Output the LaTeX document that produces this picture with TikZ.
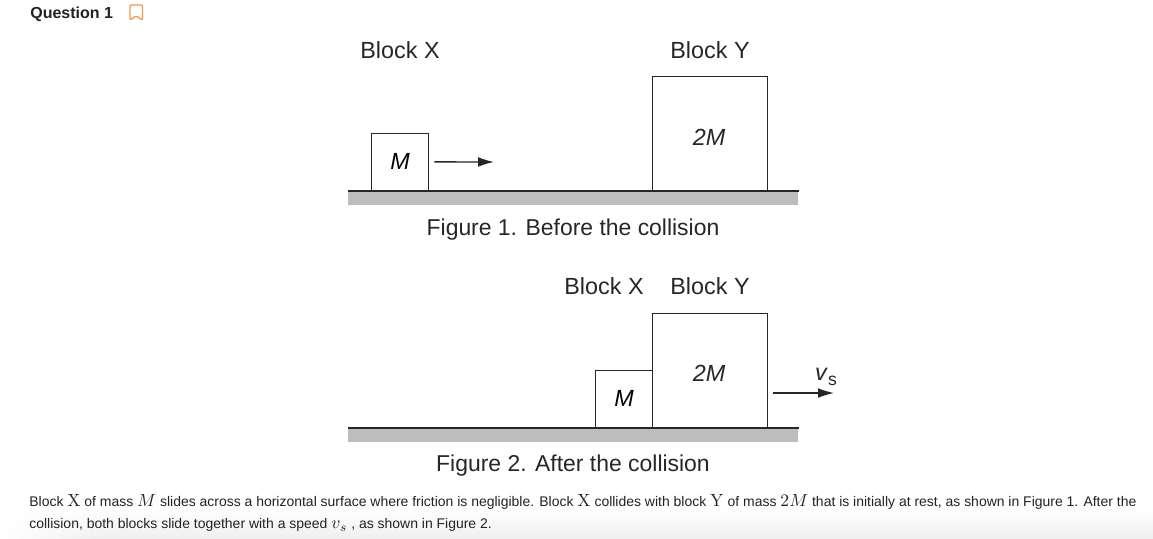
\documentclass[tikz,border=0pt]{standalone}
\usepackage{amsmath}
\usepackage{xcolor}
\usepackage[no-math]{fontspec}
\setmainfont{Liberation Sans}
\usepackage{tikz}
\usetikzlibrary{arrows,arrows.meta,positioning}

\definecolor{groundgray}{HTML}{BDBDBF}
\definecolor{inkdark}{HTML}{222222}
\definecolor{markorange}{HTML}{F79646}

\tikzset{
    smallblock/.style={draw=black!85, line width=0.75pt, minimum width=1.14cm, minimum height=1.14cm, inner sep=0pt, anchor=south west, font=\fontsize{13.3}{15}\selectfont\itshape},
    bigblock/.style={draw=black!85, line width=0.75pt, minimum width=2.30cm, minimum height=2.28cm, inner sep=0pt, anchor=south west},
    ground/.style={fill=groundgray, minimum width=9cm, minimum height=0.27cm, inner sep=0pt, anchor=north west},
    label/.style={inner sep=0pt, text=black!85, font=\fontsize{13.3}{15}\selectfont},
    caption/.style={inner sep=0pt, anchor=base, text=black!85, font=\fontsize{13.05}{15}\selectfont},
    body/.style={inner sep=0pt, anchor=base west, text=inkdark, font=\fontsize{7.95}{10}\selectfont},
    motion/.style={-{Latex[length=9pt,width=5.5pt]}, line width=0.75pt, black!85}
}
\newcommand{\bigmath}[1]{{\fontsize{9.6}{10}\selectfont$#1$}}

\begin{document}
\begin{tikzpicture}[x=0.02cm,y=-0.02cm]
    \useasboundingbox (0,0) rectangle (1153,538);

    % page shadow
    \shade[top color=white, bottom color=black!6] (100,508) rectangle (1153,538);
    \foreach \i in {0,...,9} {
        \pgfmathsetmacro{\tint}{0.6*(\i+0.5)}
        \shade[top color=white, bottom color=black!\tint] (10*\i,508) rectangle (10*\i+10.3,538);
    }

    % heading
    \node[inner sep=0pt, anchor=base west, text=inkdark, font=\fontsize{9.1}{11}\selectfont\bfseries] (head) at (30,18) {Question 1};
    \draw[markorange, line width=0.75pt, line join=round, rounded corners=0.6pt] (130,20) -- (130,5) -- (142.5,5) -- (142.5,20) -- (136.2,16) -- cycle;

    % before
    \node[label] (xone) at (400,50) {Block X};
    \node[label] (yone) at (710,50) {Block Y};
    \node[smallblock] (mone) at (371,191) {M};
    \node[bigblock] (bone) at (652,191) {};
    \node[label, font=\fontsize{13.3}{15}\selectfont\itshape] (bonelabel) at (709,137.5) {2M};
    \node[ground] (gone) at (348,191) {};
    \draw[line width=0.85pt, black!85] (gone.north west) -- (gone.north east);
    \coordinate (aone) at (494,162);
    \draw[motion] (mone.east)++(5,0) -- (aone);
    \node[caption] (figone) at (573,235.5) {Figure 1. Before the collision};

    % after
    \node[label] (xtwo) at (604,286) {Block X};
    \node[label] (ytwo) at (710,286) {Block Y};
    \node[smallblock] (mtwo) at (595,428) {M};
    \node[bigblock] (btwo) at (652,428) {};
    \node[label, font=\fontsize{13.3}{15}\selectfont\itshape] (btwolabel) at (709,373.5) {2M};
    \node[ground] (gtwo) at (348,428) {};
    \draw[line width=0.85pt, black!85] (gtwo.north west) -- (gtwo.north east);
    \coordinate (atwo) at (834,393);
    \draw[motion] (773,393) -- (atwo);
    \node[label] (speed) at (826,377) {\textit{v}\raisebox{-2.5pt}{\fontsize{10}{12}\selectfont s}};
    \node[caption] (figtwo) at (573,471.5) {Figure 2. After the collision};

    % text
    \node[body] (lineone) at (29,506.5) {Block \bigmath{\mathrm{X}} of mass \bigmath{M} slides across a horizontal surface where friction is negligible. Block \bigmath{\mathrm{X}} collides with block \bigmath{\mathrm{Y}} of mass \bigmath{2M} that is initially at rest, as shown in Figure 1. After the};
    \node[body] (linetwo) at (29,528.5) {collision, both blocks slide together with a speed \bigmath{v_s} , as shown in Figure 2.};
\end{tikzpicture}
\end{document}
